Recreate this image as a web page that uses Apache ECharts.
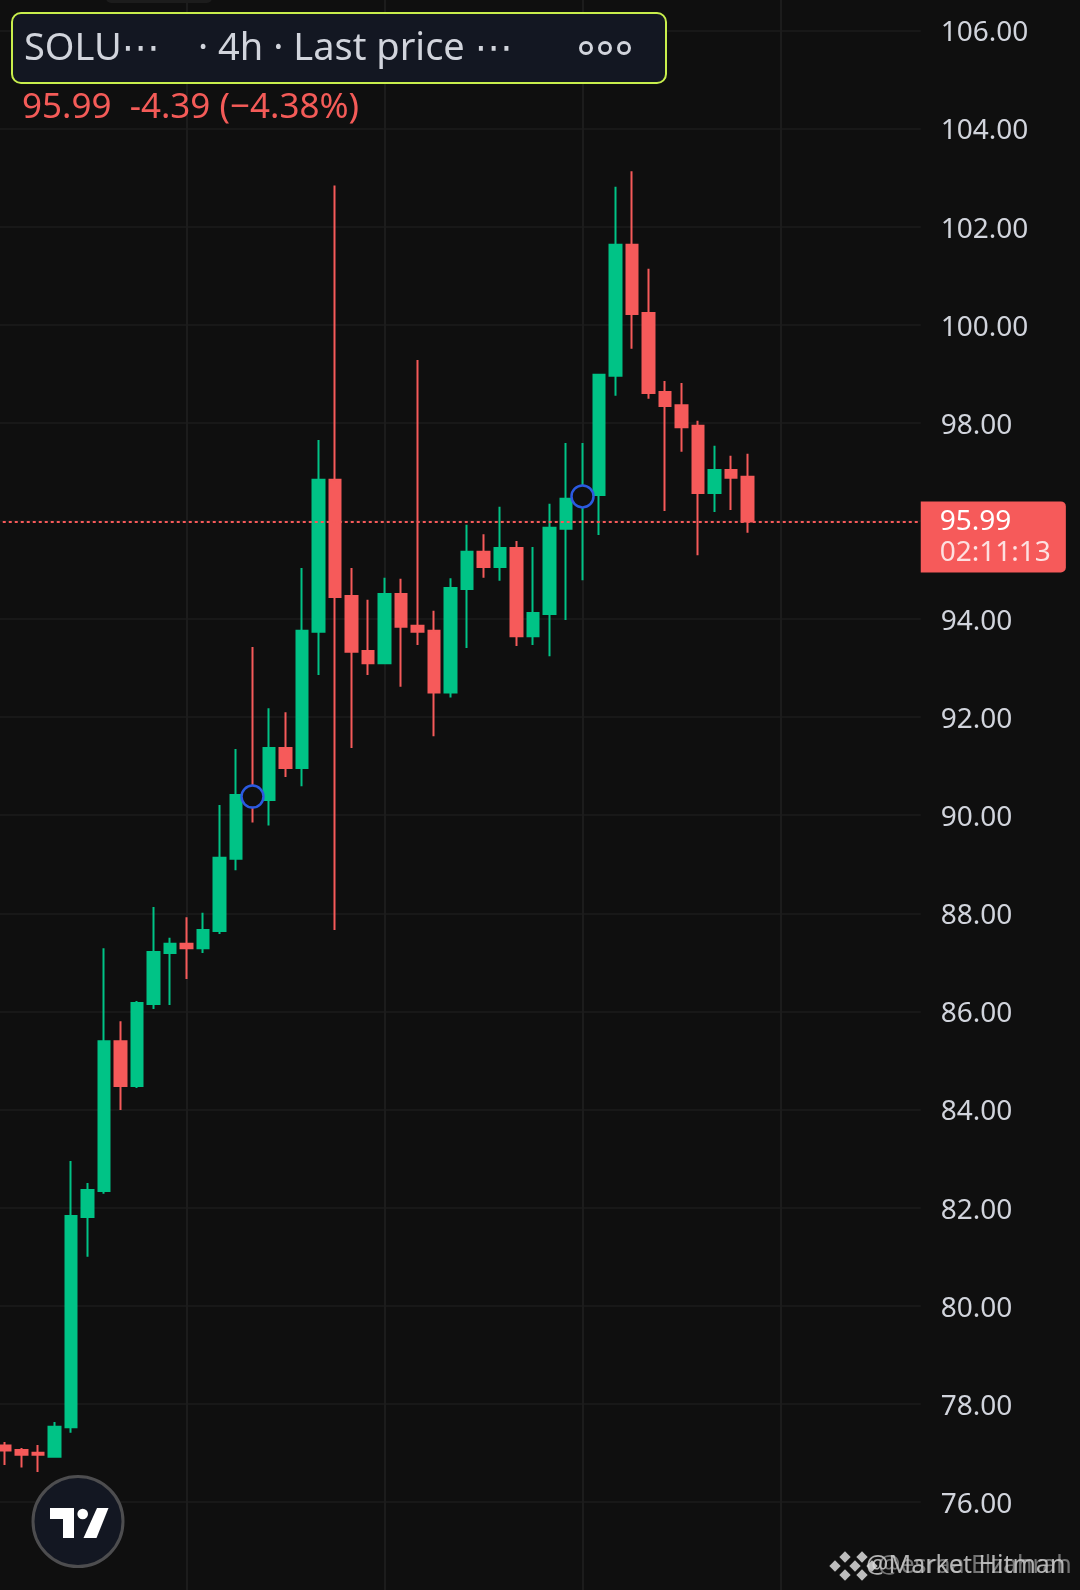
<!DOCTYPE html>
<html><head><meta charset="utf-8">
<script src="https://cdn.jsdelivr.net/npm/echarts@6/dist/echarts.min.js"></script>
<style>html,body{margin:0;padding:0;background:#0f0f0f;}#c{width:1080px;height:1590px;}</style>
</head><body><div id="c"></div>
<script>
// ---- data ----
const symbolTitle = 'SOLU⋯';
const intervalTitle = '· 4h · Last price ⋯';
const changeText = '95.99  -4.39 (−4.38%)';
const lastPrice = 95.99;
const countdown = '02:11:13';
const slotCount = 56; // 46 candles + empty future slots
const categories = Array.from({length: slotCount}, (_, i) => 'k' + i);
// [open, close, low, high]
const candles = [
  [77.15, 77.05, 76.75, 77.22],
  [77.06, 76.96, 76.70, 77.10],
  [77.00, 76.96, 76.61, 77.16],
  [76.92, 77.53, 76.90, 77.63],
  [77.52, 81.83, 77.41, 82.95],
  [81.81, 82.36, 81.00, 82.50],
  [82.34, 85.39, 82.28, 87.29],
  [85.39, 84.48, 83.99, 85.80],
  [84.48, 86.17, 84.44, 86.21],
  [86.15, 87.21, 86.05, 88.13],
  [87.19, 87.38, 86.13, 87.50],
  [87.38, 87.29, 86.66, 87.92],
  [87.29, 87.66, 87.19, 88.01],
  [87.64, 89.13, 87.58, 90.21],
  [89.11, 90.41, 88.88, 91.35],
  [90.45, 90.35, 89.85, 93.43],
  [90.31, 91.37, 89.79, 92.18],
  [91.37, 90.96, 90.78, 92.10],
  [90.96, 93.76, 90.59, 95.04],
  [93.74, 96.84, 92.86, 97.65],
  [96.84, 94.45, 87.66, 102.84],
  [94.47, 93.33, 91.37, 95.04],
  [93.35, 93.10, 92.86, 94.39],
  [93.10, 94.51, 93.08, 94.84],
  [94.51, 93.84, 92.62, 94.82],
  [93.86, 93.74, 93.47, 99.28],
  [93.76, 92.50, 91.61, 94.17],
  [92.50, 94.63, 92.40, 94.83],
  [94.61, 95.37, 93.41, 95.92],
  [95.37, 95.06, 94.84, 95.73],
  [95.06, 95.45, 94.78, 96.29],
  [95.45, 93.65, 93.45, 95.59],
  [93.65, 94.12, 93.47, 95.47],
  [94.10, 95.86, 93.24, 96.35],
  [95.84, 96.45, 93.98, 97.59],
  [96.45, 96.55, 94.79, 97.59],
  [96.53, 98.98, 95.71, 99.00],
  [98.96, 101.63, 98.55, 102.81],
  [101.63, 100.22, 99.51, 103.13],
  [100.24, 98.61, 98.49, 101.14],
  [98.63, 98.34, 96.20, 98.85],
  [98.36, 97.91, 97.41, 98.81],
  [97.94, 96.57, 95.30, 98.04],
  [96.57, 97.04, 96.18, 97.53],
  [97.04, 96.88, 96.22, 97.33],
  [96.90, 95.99, 95.76, 97.37]
];
const eventMarkers = [[15, 90.38], [35, 96.50]];
const dayLineSlots = ['k11', 'k23', 'k35', 'k47'];
const yMin = 74, yMax = 108, yStep = 2;
const watermarkA = '@Market Hitman';
const watermarkB = '@esraa Elzahrah';

// ---- styles ----
const UP = '#00c386', DOWN = '#f65a5a', BG = '#0f0f0f', GRID = '#1c1c1c';
const FONT = '"Noto Sans", "DejaVu Sans", sans-serif';
const Z = 100;

const chart = echarts.init(document.getElementById('c'), null, {renderer: 'canvas'});
chart.setOption({
  backgroundColor: BG,
  animation: false,
  grid: {left: -3.25, right: 159.25, top: -67.7, bottom: -10, outerBoundsMode: 'none', containLabel: false},
  xAxis: {
    type: 'category', data: categories, boundaryGap: true,
    axisLine: {show: false}, axisTick: {show: false}, axisLabel: {show: false}, splitLine: {show: false}
  },
  yAxis: {
    type: 'value', position: 'right', min: yMin, max: yMax, interval: yStep, scale: true,
    axisLine: {show: false}, axisTick: {show: false},
    axisLabel: {margin: 20, color: '#d1d4dc', fontSize: 28, fontFamily: FONT,
      showMinLabel: false, showMaxLabel: false,
      formatter: v => '{v|' + v.toFixed(2) + '}',
      rich: {v: {color: '#d1d4dc', fontSize: 28, fontFamily: FONT, padding: [6, 0, 0, 0]}}},
    splitLine: {show: true, lineStyle: {color: GRID, width: 1.5}}
  },
  series: [
    {
      type: 'line', data: [], silent: true,
      markLine: {
        silent: true, z: 1, symbol: 'none', animation: false,
        label: {show: false},
        lineStyle: {color: GRID, type: 'solid', width: 2},
        data: dayLineSlots.map(s => ({xAxis: s}))
      }
    },
    {
      type: 'candlestick', data: candles, barWidth: 12, z: 2,
      itemStyle: {color: UP, color0: DOWN, borderColor: UP, borderColor0: DOWN, borderWidth: 2},
      markLine: {
        silent: true, z: 6, symbol: 'none', animation: false, precision: 2,
        lineStyle: {color: DOWN, type: [3, 3], width: 2},
        label: {
          show: true, position: 'end', distance: 0, offset: [0, 15.5],
          backgroundColor: DOWN, borderRadius: [0, 5, 5, 0], padding: [5, 15, 4, 19],
          formatter: () => '{p|' + lastPrice.toFixed(2) + '}\n{t|' + countdown + '}',
          rich: {
            p: {color: '#ffffff', fontSize: 28, fontFamily: FONT, lineHeight: 31},
            t: {color: '#fde0e0', fontSize: 28, fontFamily: FONT, lineHeight: 31}
          }
        },
        data: [{yAxis: lastPrice}]
      }
    },
    {
      type: 'scatter', data: eventMarkers, z: 4, symbol: 'circle', symbolSize: 22, silent: true,
      itemStyle: {color: BG, borderColor: '#2b5ae0', borderWidth: 2.5, opacity: 1}
    }
  ],
  graphic: [
    {type: 'rect', z: Z, shape: {x: 106, y: -8, width: 106, height: 11, r: 5}, style: {fill: '#1c1c1c'}},
    {type: 'rect', z: Z, shape: {x: 12, y: 13, width: 654, height: 70, r: 9},
      style: {fill: '#131722', stroke: '#c8ee4c', lineWidth: 2}},
    {type: 'text', z: Z + 1, x: 24, y: 49, style: {text: symbolTitle, fill: '#d1d4dc', font: '38px ' + FONT, verticalAlign: 'middle'}},
    {type: 'text', z: Z + 1, x: 198, y: 49, style: {text: intervalTitle, fill: '#d1d4dc', font: '38px ' + FONT, verticalAlign: 'middle'}},
    {type: 'circle', z: Z + 1, shape: {cx: 586, cy: 48, r: 5.5}, style: {fill: 'none', stroke: '#d1d4dc', lineWidth: 3}},
    {type: 'circle', z: Z + 1, shape: {cx: 605, cy: 48, r: 5.5}, style: {fill: 'none', stroke: '#d1d4dc', lineWidth: 3}},
    {type: 'circle', z: Z + 1, shape: {cx: 624, cy: 48, r: 5.5}, style: {fill: 'none', stroke: '#d1d4dc', lineWidth: 3}},
    {type: 'text', z: Z, x: 22, y: 108, style: {text: changeText, fill: '#f45b58', font: '35px ' + FONT, verticalAlign: 'middle'}},
    // TradingView logo
    {type: 'circle', z: Z, shape: {cx: 78, cy: 1521.5, r: 45}, style: {fill: '#131722', stroke: '#4d4d4f', lineWidth: 3}},
    {type: 'polygon', z: Z + 1, shape: {points: [[50, 1508], [74, 1508], [74, 1538], [63, 1538], [63, 1519], [50, 1519]]}, style: {fill: '#ffffff'}},
    {type: 'circle', z: Z + 1, shape: {cx: 82.7, cy: 1514, r: 5.3}, style: {fill: '#ffffff'}},
    {type: 'polygon', z: Z + 1, shape: {points: [[97, 1508], [108.5, 1508], [96.5, 1538], [83.5, 1538]]}, style: {fill: '#ffffff'}},
    // watermark
    {type: 'group', z: Z, x: 845, y: 1566, children: [
      {type: 'rect', z: Z, x: -10, y: 0, rotation: Math.PI / 4, shape: {x: -4, y: -4, width: 8, height: 8}, style: {fill: '#bdbdbd'}},
      {type: 'rect', z: Z, x: 0, y: -9, rotation: Math.PI / 4, shape: {x: -4, y: -4, width: 8, height: 8}, style: {fill: '#bdbdbd'}},
      {type: 'rect', z: Z, x: 0, y: 9, rotation: Math.PI / 4, shape: {x: -4, y: -4, width: 8, height: 8}, style: {fill: '#bdbdbd'}},
      {type: 'rect', z: Z, x: 10, y: 0, rotation: Math.PI / 4, shape: {x: -4, y: -4, width: 8, height: 8}, style: {fill: '#bdbdbd'}},
      {type: 'rect', z: Z, x: 17, y: -9, rotation: Math.PI / 4, shape: {x: -4, y: -4, width: 8, height: 8}, style: {fill: '#bdbdbd'}},
      {type: 'rect', z: Z, x: 17, y: 9, rotation: Math.PI / 4, shape: {x: -4, y: -4, width: 8, height: 8}, style: {fill: '#bdbdbd'}},
      {type: 'rect', z: Z, x: 27, y: 0, rotation: Math.PI / 4, shape: {x: -4, y: -4, width: 8, height: 8}, style: {fill: '#bdbdbd'}}
    ]},
    {type: 'text', z: Z, x: 866, y: 1566, style: {text: watermarkA, fill: 'rgba(220,220,220,0.8)', font: '25px ' + FONT, verticalAlign: 'middle'}},
    {type: 'text', z: Z, x: 878, y: 1566, style: {text: watermarkB, fill: 'rgba(200,200,200,0.55)', font: '25px ' + FONT, verticalAlign: 'middle'}}
  ]
});
</script>
</body></html>
